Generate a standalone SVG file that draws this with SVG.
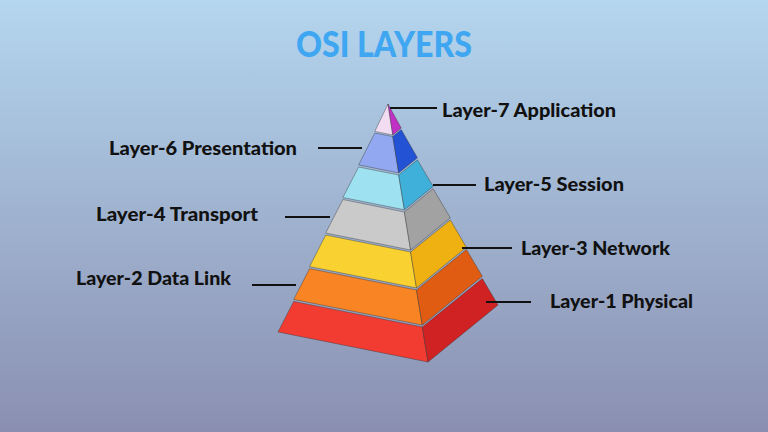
<svg xmlns="http://www.w3.org/2000/svg" width="768" height="432" viewBox="0 0 768 432">
<defs>
<linearGradient id="bg" x1="0" y1="0" x2="0" y2="1"><stop offset="0" stop-color="#b4d6ee"/><stop offset="1" stop-color="#8a8fb0"/></linearGradient>
<style>
.lbl{font-family:Lato,"Open Sans",sans-serif;font-weight:900;font-size:19px;fill:#111}
.ld{stroke:#111;stroke-width:2;fill:none}
.edge{stroke:#333;stroke-width:0.8;stroke-opacity:0.5}
</style>
</defs>
<rect width="768" height="432" fill="url(#bg)"/>
<text x="296" y="57" textLength="176" lengthAdjust="spacingAndGlyphs" font-family="Lato,sans-serif" font-weight="900" font-size="36" fill="#3fa6f2">OSI LAYERS</text>
<g id="pyramid" class="edge">
<g id="tier7"><polygon points="388,104 392.8,135 374.8,131.4" fill="#f2dcf2"/><polygon points="388,104 401.2,128.1 392.8,135" fill="#c030c4"/></g>
<g id="tier6"><polygon points="374.8,133 392.8,136.5 398.7,172.9 358.6,164.9" fill="#92a8f0"/><polygon points="392.8,136.5 401.2,129.6 417.4,157.7 398.7,172.9" fill="#2452d4"/></g>
<g id="tier5"><polygon points="358.6,167 398.7,175 404.4,209.8 342.9,197.5" fill="#9ee2f2"/><polygon points="398.7,175 417.4,159.8 433.1,186.4 404.4,209.8" fill="#3fb0da"/></g>
<g id="tier4"><polygon points="342.9,199.5 404.4,212 410.6,250 325.7,233" fill="#cacaca"/><polygon points="404.4,212 433.1,188.6 450.3,217.8 410.6,250" fill="#a2a2a2"/></g>
<g id="tier3"><polygon points="325.7,235 410.6,252 416.5,288 309.6,266.6" fill="#f9d232"/><polygon points="410.6,252 450.3,220 466.4,247.3 416.5,288" fill="#efb012"/></g>
<g id="tier2"><polygon points="309.6,268.6 416.5,290 422.3,325.1 293.7,299.4" fill="#f98424"/><polygon points="416.5,290 466.4,249.5 482.3,276.3 422.3,325.1" fill="#e05c12"/></g>
<g id="tier1"><polygon points="293.7,301.4 422.3,327 428,362 278,332" fill="#f23c32"/><polygon points="422.3,327 482.3,278.5 498,305 428,362" fill="#d02222"/></g>
</g>
<g id="connectors">
<line class="ld" x1="390" y1="108" x2="437" y2="108"/>
<line class="ld" x1="318" y1="148" x2="362" y2="148"/>
<line class="ld" x1="433" y1="185" x2="476" y2="185"/>
<line class="ld" x1="285" y1="217" x2="330" y2="217"/>
<line class="ld" x1="462" y1="248" x2="512" y2="248"/>
<line class="ld" x1="252" y1="285" x2="296" y2="285"/>
<line class="ld" x1="486" y1="302" x2="531" y2="302"/>
</g>
<g id="labels">
<text class="lbl" x="442" y="117" textLength="174" lengthAdjust="spacingAndGlyphs">Layer-7 Application</text>
<text class="lbl" x="109" y="155" textLength="188" lengthAdjust="spacingAndGlyphs">Layer-6 Presentation</text>
<text class="lbl" x="484" y="191" textLength="140" lengthAdjust="spacingAndGlyphs">Layer-5 Session</text>
<text class="lbl" x="96" y="221" textLength="162" lengthAdjust="spacingAndGlyphs">Layer-4 Transport</text>
<text class="lbl" x="521" y="255" textLength="149" lengthAdjust="spacingAndGlyphs">Layer-3 Network</text>
<text class="lbl" x="76" y="285" textLength="155" lengthAdjust="spacingAndGlyphs">Layer-2 Data Link</text>
<text class="lbl" x="550" y="308" textLength="143" lengthAdjust="spacingAndGlyphs">Layer-1 Physical</text>
</g>
</svg>
